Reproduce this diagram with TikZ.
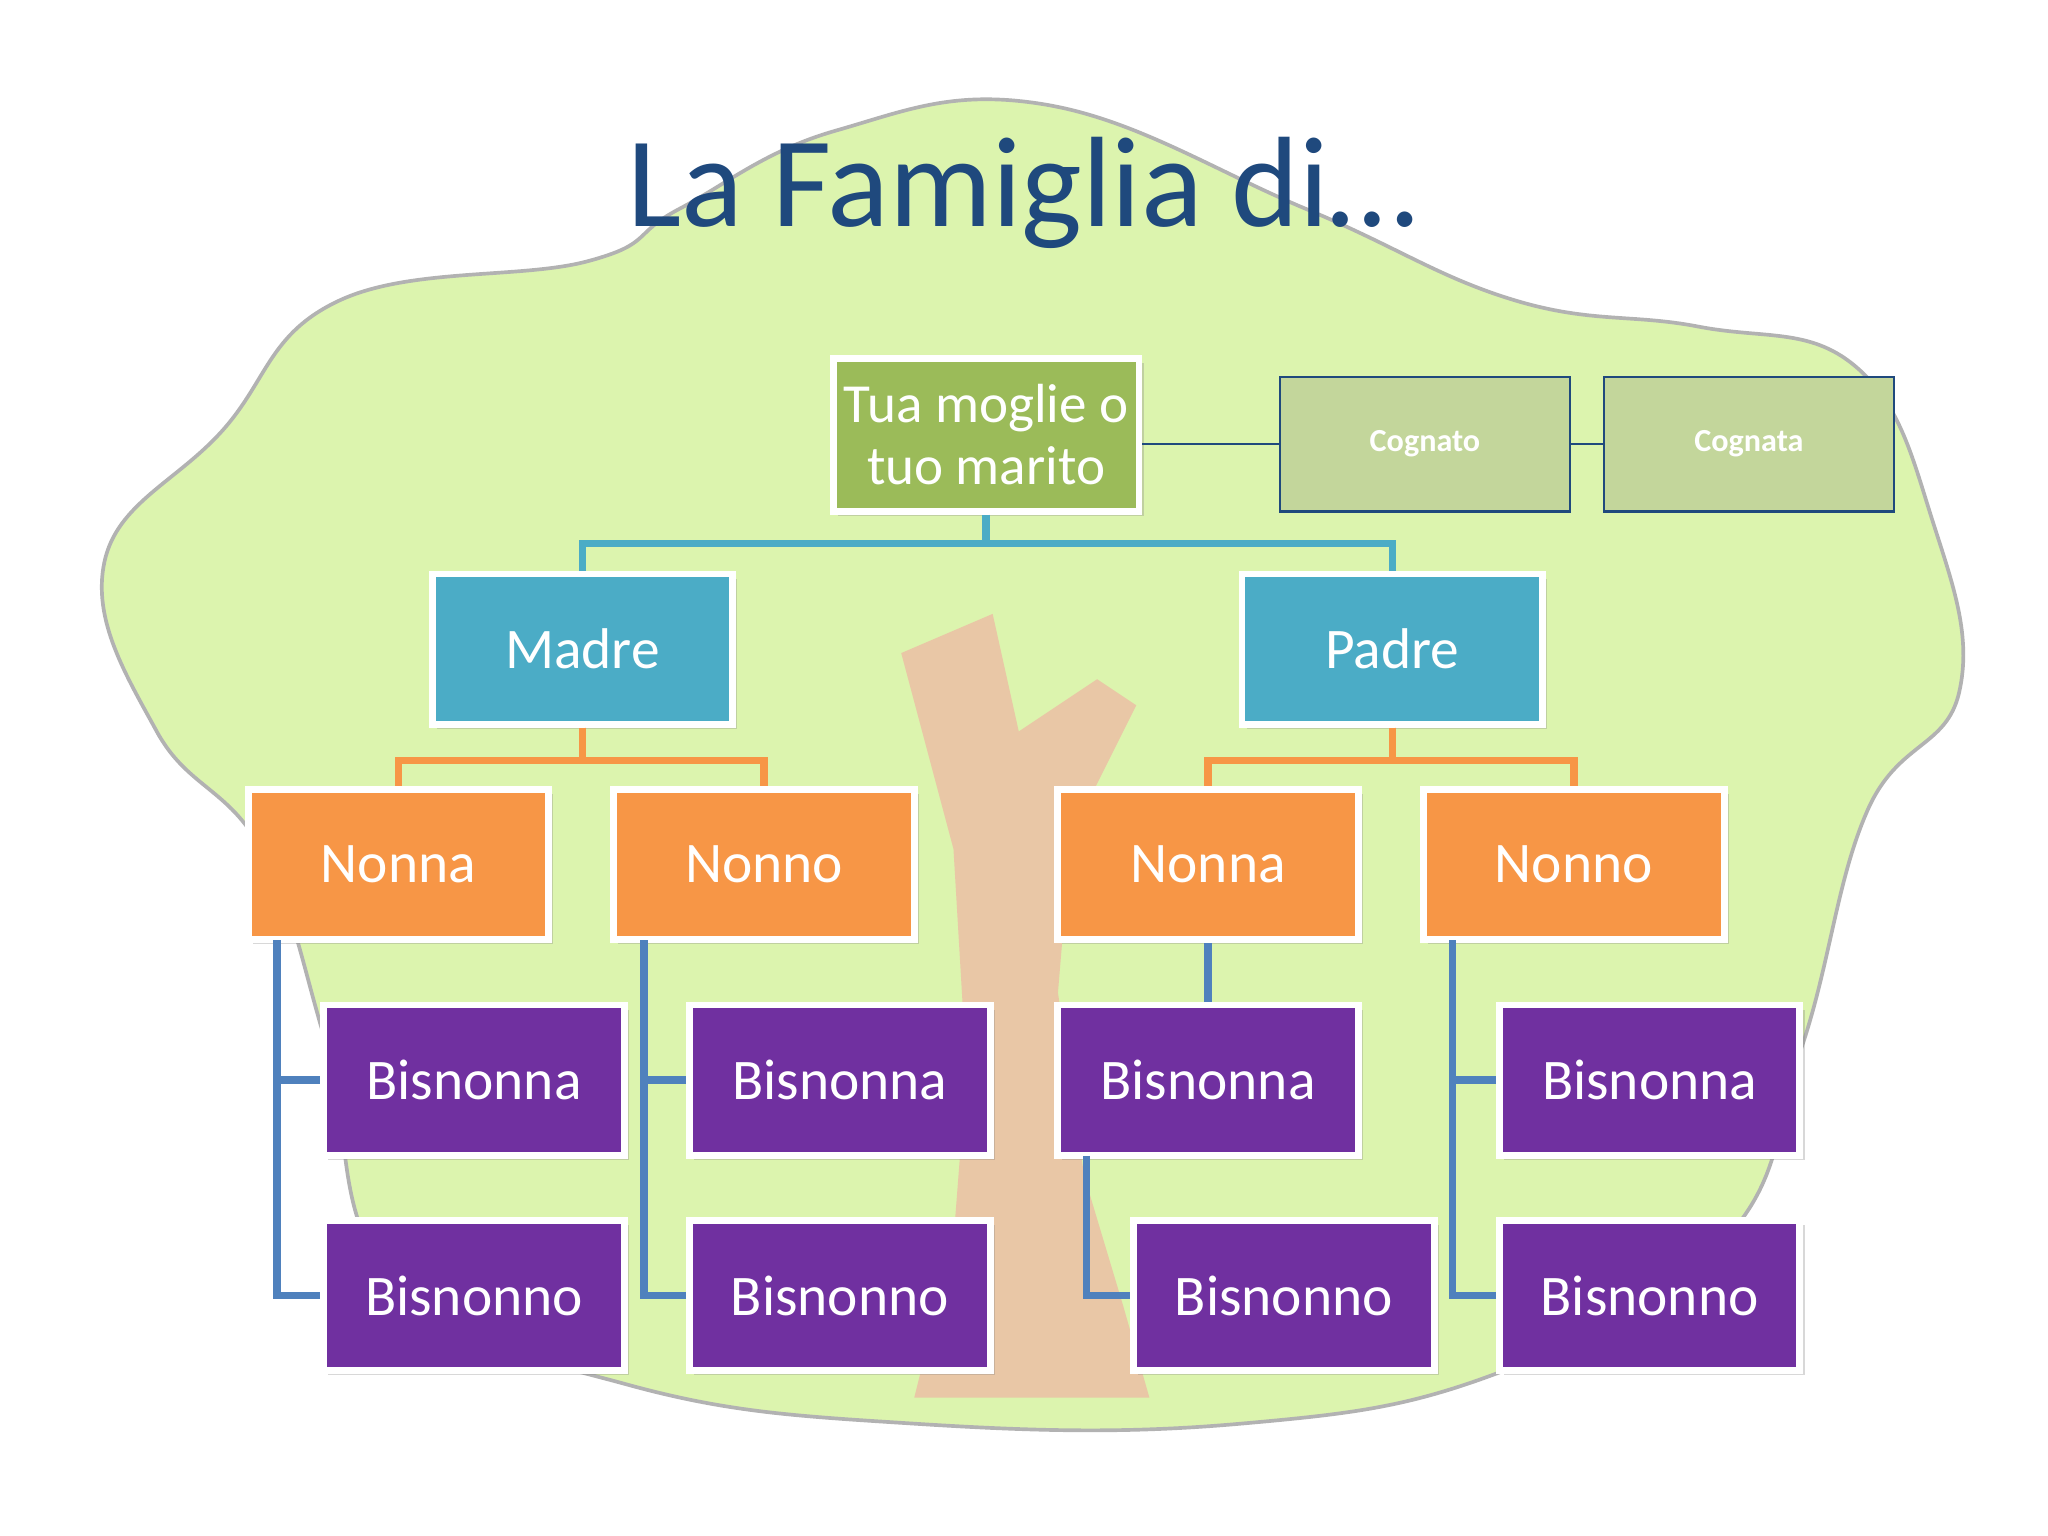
\documentclass[tikz,border=0pt]{standalone}
\usepackage{fontspec}
\setmainfont{Carlito}
\usetikzlibrary{shadows}
\definecolor{titleblue}{HTML}{1F497D}
\definecolor{gboxc}{HTML}{9BBB59}
\definecolor{lgbox}{HTML}{C3D69B}
\definecolor{bbox}{HTML}{4BACC6}
\definecolor{obox}{HTML}{F79646}
\definecolor{pbox}{HTML}{7030A0}
\definecolor{linkblue}{HTML}{4F81BD}
\definecolor{leaf}{HTML}{DCF4AE}
\definecolor{trunk}{HTML}{E9C7A6}
\tikzset{
 box/.style={draw=white,line width=1.5pt,text=white,minimum width=2.3cm,minimum height=1.15cm,inner sep=1pt,align=center,font=\fontsize{12.5}{14}\selectfont,drop shadow={shadow xshift=1pt,shadow yshift=-1pt,opacity=0.3}},
 gbox/.style={box,fill=gboxc,minimum width=2.34cm,minimum height=1.17cm,font=\fontsize{12}{13.5}\selectfont},
 cbox/.style={draw=titleblue,line width=0.5pt,fill=lgbox,text=white,minimum width=2.22cm,minimum height=1.03cm,font=\fontsize{7}{8}\selectfont\bfseries},
 mbox/.style={box,fill=bbox},
 nbox/.style={box,fill=obox},
 bisbox/.style={box,fill=pbox},
 l1/.style={draw=bbox,line width=1.6pt},
 l2/.style={draw=obox,line width=1.6pt},
 l3/.style={draw=linkblue,line width=1.6pt},
 l0/.style={draw=titleblue,line width=0.5pt}
}
\begin{document}
\begin{tikzpicture}[x=0.01cm,y=-0.01cm]
\fill[white] (0,0) rectangle (1568,1176);
\fill[leaf,draw=gray!60,line width=0.8pt] plot[smooth cycle,tension=0.7] coordinates{(80,430)(170,330)(260,230)(450,200)(520,160)(640,100)(800,80)(1000,160)(1160,230)(1300,250)(1420,280)(1480,400)(1500,530)(1430,620)(1380,800)(1320,950)(1150,1050)(950,1090)(700,1090)(480,1060)(300,980)(250,800)(200,650)(120,560)};
\fill[trunk] (690,500) -- (760,470) -- (780,560) -- (840,520) -- (870,540) -- (820,640) -- (810,760) -- (830,900) -- (860,1000) -- (880,1070) -- (700,1070) -- (730,950) -- (740,820) -- (730,650) -- cycle;
\node[font=\fontsize{28}{30}\selectfont,text=titleblue] (title) at (783,148) {La Famiglia di…};
\node[gbox] (tua) at (755,333) {Tua moglie o\\tuo marito};
\node[cbox] (cgo) at (1091,340) {Cognato};
\node[cbox] (cga) at (1339,340) {Cognata};
\node[mbox] (madre) at (446,497) {Madre};
\node[mbox] (padre) at (1066,497) {Padre};
\node[nbox] (n1) at (305,662) {Nonna};
\node[nbox] (n2) at (585,662) {Nonno};
\node[nbox] (n3) at (925,662) {Nonna};
\node[nbox] (n4) at (1205,662) {Nonno};
\node[bisbox] (b1) at (363,827) {Bisnonna};
\node[bisbox] (b2) at (643,827) {Bisnonna};
\node[bisbox] (b3) at (925,827) {Bisnonna};
\node[bisbox] (b4) at (1263,827) {Bisnonna};
\node[bisbox] (c1) at (363,992) {Bisnonno};
\node[bisbox] (c2) at (643,992) {Bisnonno};
\node[bisbox] (c3) at (983,992) {Bisnonno};
\node[bisbox] (c4) at (1263,992) {Bisnonno};
\draw[l0] (tua.east |- cgo.west) -- (cgo.west);
\draw[l0] (cgo.east) -- (cga.west);
\draw[l1] (tua.south) -- ++(0,22) -| (madre.north);
\draw[l1] (tua.south) -- ++(0,22) -| (padre.north);
\draw[l2] (madre.south) -- ++(0,25) -| (n1.north);
\draw[l2] (madre.south) -- ++(0,25) -| (n2.north);
\draw[l2] (padre.south) -- ++(0,25) -| (n3.north);
\draw[l2] (padre.south) -- ++(0,25) -| (n4.north);
\foreach \n/\b/\c/\x in {n1/b1/c1/212,n2/b2/c2/493,n4/b4/c4/1112}{
 \draw[l3] (\x,720) |- (\b.west);
 \draw[l3] (\x,720) |- (\c.west);
}
\draw[l3] (n3.south) -- (b3.north);
\draw[l3] (832,885) |- (c3.west);
\end{tikzpicture}
\end{document}
